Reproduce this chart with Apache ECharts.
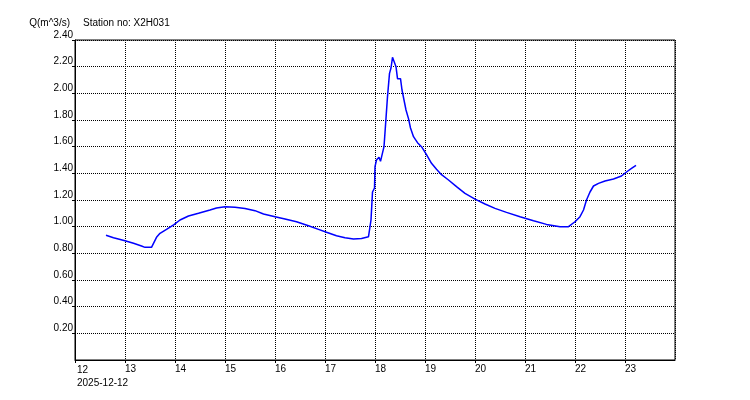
<!DOCTYPE html>
<html><head><meta charset="utf-8">
<script src="https://cdn.jsdelivr.net/npm/echarts@6/dist/echarts.min.js"></script>
<style>html,body{margin:0;padding:0;background:#fff}#c{width:750px;height:400px}</style>
</head><body><div id="c"></div>
<script>
const stationTitle = 'Station no: X2H031';
const yAxisTitle = 'Q(m^3/s)';
const firstDayLabel = '12';
const startDateLabel = '2025-12-12';
// time in days (day of month, decimal)
const times = [12.62,12.77,13.0,13.17,13.33,13.4,13.53,13.57,13.63,13.7,13.83,13.98,14.1,14.27,14.47,14.7,14.83,15.0,15.2,15.4,15.6,15.77,16.0,16.2,16.43,16.67,16.87,17.03,17.23,17.4,17.57,17.73,17.87,17.9,17.92,17.95,17.99,18.0,18.03,18.08,18.11,18.15,18.18,18.21,18.25,18.29,18.32,18.35,18.39,18.42,18.45,18.51,18.54,18.58,18.62,18.67,18.71,18.77,18.85,18.93,19.03,19.13,19.23,19.33,19.47,19.63,19.8,20.0,20.2,20.4,20.63,20.9,21.17,21.43,21.7,21.87,22.0,22.1,22.17,22.23,22.3,22.37,22.47,22.6,22.77,22.93,23.03,23.13,23.22];
const flows = [0.935,0.917,0.895,0.875,0.855,0.845,0.845,0.875,0.92,0.95,0.98,1.015,1.05,1.08,1.10,1.125,1.14,1.15,1.145,1.137,1.12,1.095,1.075,1.058,1.037,1.007,0.98,0.958,0.932,0.917,0.907,0.912,0.925,0.93,1.05,1.26,1.29,1.45,1.50,1.52,1.49,1.50,1.60,1.76,1.975,2.15,2.19,2.27,2.26,2.20,2.11,2.11,2.025,1.95,1.875,1.81,1.74,1.675,1.63,1.60,1.54,1.475,1.43,1.39,1.35,1.30,1.25,1.207,1.17,1.137,1.107,1.075,1.045,1.017,1.0,1.0,1.037,1.075,1.125,1.20,1.26,1.305,1.325,1.343,1.357,1.38,1.41,1.437,1.46];

const data = times.map((t,i)=>[t, flows[i]]);
const font = 'Liberation Sans, Arial, sans-serif';
const chart = echarts.init(document.getElementById('c'));
chart.setOption({
  animation:false,
  backgroundColor:'#fff',
  title:{text:stationTitle,left:78,top:13,textStyle:{fontSize:10,fontWeight:'normal',color:'#000',fontFamily:font}},
  graphic:[{type:'text',left:77,top:364,style:{text:firstDayLabel+'\n'+startDateLabel,fill:'#000',lineHeight:13,font:'10px Liberation Sans, Arial, sans-serif'}}],
  grid:{left:75,right:75,top:40,bottom:40,show:true,borderColor:'#000',borderWidth:1,backgroundColor:'transparent'},
  xAxis:{type:'value',min:12,max:24,interval:1,
    axisLine:{lineStyle:{color:'#000',width:1}},
    axisTick:{show:true,length:3,lineStyle:{color:'#000'}},
    axisLabel:{color:'#000',fontSize:10,fontFamily:font,align:'left',margin:4,showMaxLabel:false,
      formatter:v=> v===12 ? '' : String(v)},
    splitLine:{show:true,lineStyle:{color:'#000',type:[1,1],width:1}}},
  yAxis:{type:'value',min:0,max:2.4,interval:0.2,
    name:yAxisTitle,nameLocation:'end',nameGap:12,
    nameTextStyle:{color:'#000',fontSize:10,fontFamily:font,align:'right',padding:[0,5,0,0]},
    axisLine:{show:true,lineStyle:{color:'#000',width:1}},
    axisTick:{show:true,length:3,lineStyle:{color:'#000'}},
    axisLabel:{color:'#000',fontSize:10,fontFamily:font,margin:2,verticalAlign:'bottom',showMinLabel:false,
      formatter:v=>v.toFixed(2)},
    splitLine:{show:true,lineStyle:{color:'#000',type:[1,1],width:1}}},
  series:[{type:'line',data:data,showSymbol:false,lineStyle:{color:'#0000ff',width:1.5},itemStyle:{color:'#0000ff'}}]
});
</script></body></html>
